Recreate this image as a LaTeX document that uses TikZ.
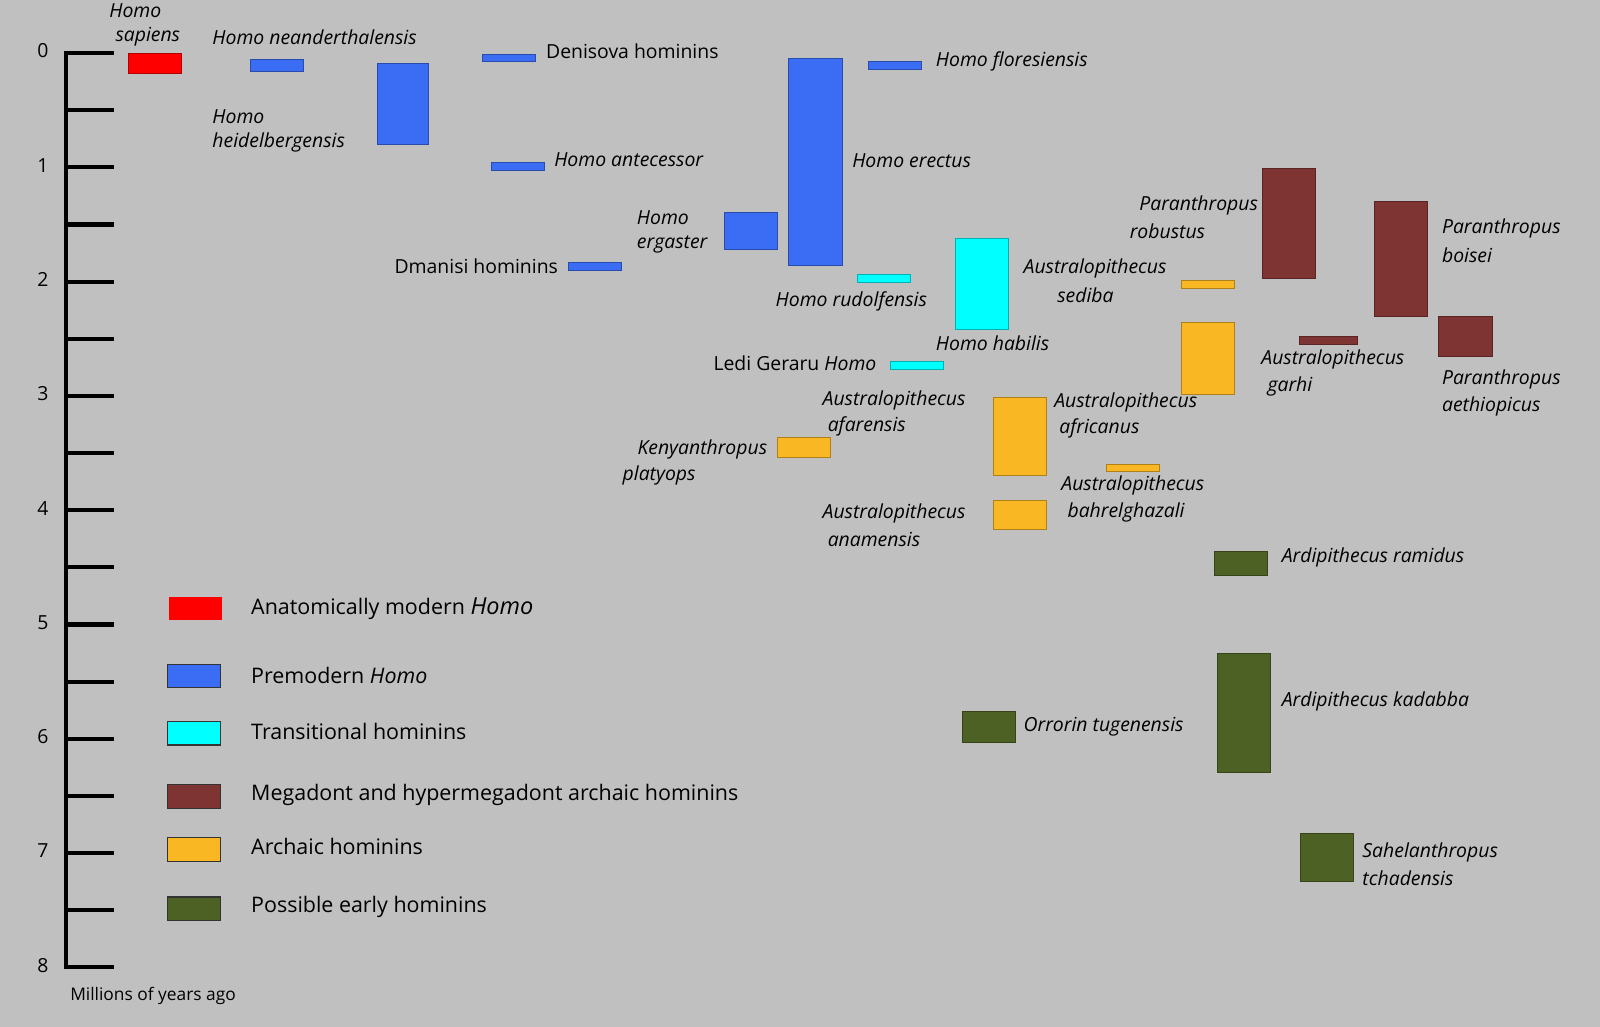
\documentclass[tikz,border=0pt]{standalone}
\usepackage{fontspec}
\setmainfont{Open Sans}
\begin{document}
\begin{tikzpicture}[x=1pt,y=-1pt,
  lab/.style={font=\fontsize{19}{22}\selectfont\itshape,inner sep=0pt,align=left},
  ulab/.style={font=\fontsize{19}{22}\selectfont,inner sep=0pt},
  leg/.style={font=\fontsize{21}{24}\selectfont,inner sep=0pt,anchor=west},
  bar/.style={draw=#1!70!black,line width=0.6pt,fill=#1},
  lbox/.style={draw=black!80,line width=1.2pt,fill=#1}]
\definecolor{bg}{RGB}{192,192,192}
\definecolor{cb}{RGB}{58,108,244}
\definecolor{cr}{RGB}{255,0,0}
\definecolor{cc}{RGB}{0,255,255}
\definecolor{cm}{RGB}{127,52,52}
\definecolor{co}{RGB}{249,183,35}
\definecolor{cg}{RGB}{78,97,37}
\fill[bg] (0,0) rectangle (1568,1006);
\useasboundingbox (0,0) rectangle (1568,1006);
% axis
\draw[line width=4pt] (65,50) -- (65,950);
\foreach \i in {0,...,16}{\draw[line width=4pt] (65,{52+56*\i}) -- (112,{52+56*\i});}
\foreach \i in {0,...,8}{\node[ulab] at (42,{52+112*\i-2}) {\i};}
\node[ulab,font=\fontsize{17}{20}\selectfont] at (150,976) {Millions of years ago};
% bars
\draw[bar=cr] (126,52) rectangle (178,72);
\draw[bar=cb] (245,58) rectangle (297,70);
\draw[bar=cb] (370,62) rectangle (420,141);
\draw[bar=cb] (473,53) rectangle (525,60);
\draw[bar=cb] (481,159) rectangle (533,167);
\draw[bar=cb] (851,60) rectangle (903,68);
\draw[bar=cb] (773,57) rectangle (825,260);
\draw[bar=cb] (710,208) rectangle (762,244);
\draw[bar=cb] (557,257) rectangle (609,265);
\draw[bar=cc] (840,269) rectangle (892,277);
\draw[bar=cc] (936,234) rectangle (988,323);
\draw[bar=cc] (872,354) rectangle (924,362);
\draw[bar=co] (1158,275) rectangle (1210,283);
\draw[bar=cm] (1273,330) rectangle (1330,337);
\draw[bar=cm] (1237,165) rectangle (1289,273);
\draw[bar=cm] (1347,197) rectangle (1399,310);
\draw[bar=cm] (1410,310) rectangle (1462,349);
\draw[bar=co] (1158,316) rectangle (1210,386);
\draw[bar=co] (973,389) rectangle (1025,466);
\draw[bar=co] (762,429) rectangle (814,448);
\draw[bar=co] (1084,455) rectangle (1136,462);
\draw[bar=co] (973,490) rectangle (1025,519);
\draw[bar=cg] (1190,540) rectangle (1242,564);
\draw[bar=cg] (1193,640) rectangle (1245,757);
\draw[bar=cg] (943,697) rectangle (995,727);
\draw[bar=cg] (1274,817) rectangle (1326,864);
% labels
\node[lab,anchor=west] at (107,10) {Homo};
\node[lab,anchor=west] at (113,36) {sapiens};
\node[lab,anchor=west] at (208,36) {Homo neanderthalensis};
\node[lab,anchor=west] at (208,114) {Homo};
\node[lab,anchor=west] at (208,140) {heidelbergensis};
\node[ulab,anchor=west] at (535,50) {Denisova hominins};
\node[lab,anchor=west] at (543,156) {Homo antecessor};
\node[lab,anchor=west] at (917,60) {Homo floresiensis};
\node[lab,anchor=west] at (835,157) {Homo erectus};
\node[lab,anchor=west] at (624,213) {Homo};
\node[lab,anchor=west] at (624,240) {ergaster};
\node[ulab,anchor=east] at (547,261) {Dmanisi hominins};
\node[lab,anchor=west] at (760,295) {Homo rudolfensis};
\node[lab,anchor=west] at (917,336) {Homo habilis};
\node[ulab,anchor=east] at (859,356) {Ledi Geraru \textit{Homo}};
\node[lab,anchor=west] at (1003,263) {Australopithecus};
\node[lab,anchor=west] at (1036,289) {sediba};
\node[lab,anchor=west] at (1236,352) {Australopithecus};
\node[lab,anchor=west] at (1242,379) {garhi};
\node[lab,anchor=east] at (1233,201) {Paranthropus};
\node[lab,anchor=west] at (1107,227) {robustus};
\node[lab,anchor=west] at (1413,224) {Paranthropus};
\node[lab,anchor=west] at (1413,250) {boisei};
\node[lab,anchor=west] at (1413,372) {Paranthropus};
\node[lab,anchor=west] at (1413,398) {aethiopicus};
\node[lab,anchor=west] at (1033,394) {Australopithecus};
\node[lab,anchor=west] at (1038,420) {africanus};
\node[lab,anchor=west] at (806,392) {Australopithecus};
\node[lab,anchor=west] at (811,418) {afarensis};
\node[lab,anchor=east] at (752,440) {Kenyanthropus};
\node[lab,anchor=west] at (610,466) {platyops};
\node[lab,anchor=west] at (1040,476) {Australopithecus};
\node[lab,anchor=west] at (1046,502) {bahrelghazali};
\node[lab,anchor=west] at (806,503) {Australopithecus};
\node[lab,anchor=west] at (811,529) {anamensis};
\node[lab,anchor=west] at (1256,546) {Ardipithecus ramidus};
\node[lab,anchor=west] at (1256,687) {Ardipithecus kadabba};
\node[lab,anchor=west] at (1003,712) {Orrorin tugenensis};
\node[lab,anchor=west] at (1335,835) {Sahelanthropus};
\node[lab,anchor=west] at (1335,861) {tchadensis};
% legend
\fill[cr] (166,585) rectangle (218,608);
\draw[lbox=cb] (164,651) rectangle (216,674);
\draw[lbox=cc] (164,707) rectangle (216,730);
\draw[lbox=cm] (164,769) rectangle (216,792);
\draw[lbox=co] (164,821) rectangle (216,844);
\draw[lbox=cg] (164,879) rectangle (216,902);
\node[leg] at (246,597) {Anatomically modern \textit{\fontsize{23}{26}\selectfont Homo}};
\node[leg] at (246,662) {Premodern \textit{Homo}};
\node[leg] at (246,717) {Transitional hominins};
\node[leg] at (246,779) {Megadont and hypermegadont archaic hominins};
\node[leg] at (246,830) {Archaic hominins};
\node[leg] at (246,889) {Possible early hominins};
\end{tikzpicture}
\end{document}
